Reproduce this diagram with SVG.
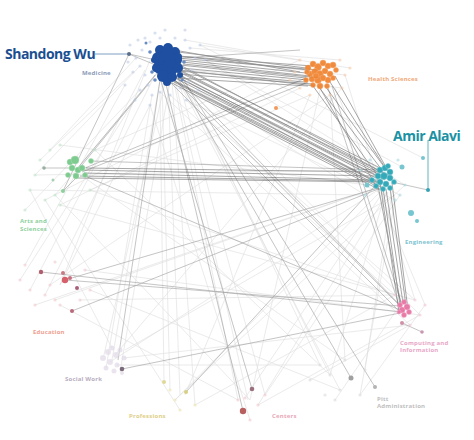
<svg xmlns="http://www.w3.org/2000/svg" width="474" height="440" viewBox="0 0 474 440">
<style>
.f{stroke:#c8c8c8;stroke-width:.6;opacity:.6}
.m{stroke:#8a8a8a;stroke-width:.7;opacity:.7}
.d{stroke:#3a3a3a;stroke-width:.8;opacity:.55}
.name{font-family:"Open Sans","Liberation Sans",sans-serif;font-weight:700;font-size:14px;letter-spacing:-.5px}
.lab{font-family:"Open Sans","Liberation Sans",sans-serif;font-weight:700;font-size:6px;letter-spacing:.2px}
.hb{fill:#b9c8e3;opacity:.55}
.ho{fill:#f8c9a4;opacity:.55}
.ht{fill:#a9dbe2;opacity:.6}
.hg{fill:#bfe6c8;opacity:.6}
.hr{fill:#f2c4c8;opacity:.55}
.hp{fill:#e2dae8;opacity:.7}
.hy{fill:#efe7b8;opacity:.7}
.hx{fill:#dcdcdc;opacity:.6}
.hk{fill:#f4c6da;opacity:.6}
</style>
<rect width="474" height="440" fill="#fff"/>
<g id="connectors" fill="none">
<g class="f">
<line x1="150" y1="60" x2="60" y2="285"/><line x1="155" y1="75" x2="45" y2="295"/><line x1="145" y1="70" x2="30" y2="290"/>
<line x1="160" y1="80" x2="112" y2="360"/><line x1="165" y1="82" x2="104" y2="355"/><line x1="170" y1="82" x2="120" y2="372"/>
<line x1="168" y1="82" x2="180" y2="395"/><line x1="172" y1="80" x2="195" y2="405"/><line x1="162" y1="80" x2="170" y2="390"/>
<line x1="175" y1="80" x2="248" y2="400"/><line x1="178" y1="78" x2="265" y2="395"/><line x1="174" y1="82" x2="238" y2="400"/>
<line x1="180" y1="76" x2="330" y2="375"/><line x1="182" y1="74" x2="320" y2="365"/><line x1="178" y1="80" x2="340" y2="390"/>
<line x1="140" y1="66" x2="35" y2="175"/><line x1="136" y1="58" x2="50" y2="150"/><line x1="148" y1="85" x2="55" y2="195"/>
<line x1="140" y1="90" x2="25" y2="210"/><line x1="133" y1="72" x2="40" y2="160"/>
<line x1="190" y1="48" x2="340" y2="60"/><line x1="200" y1="45" x2="350" y2="68"/><line x1="185" y1="40" x2="300" y2="60"/>
<line x1="195" y1="58" x2="345" y2="75"/><line x1="192" y1="70" x2="342" y2="88"/>
<line x1="188" y1="82" x2="360" y2="170"/><line x1="198" y1="90" x2="365" y2="195"/><line x1="186" y1="100" x2="395" y2="200"/>
<line x1="205" y1="60" x2="405" y2="185"/><line x1="180" y1="88" x2="400" y2="195"/>
<line x1="186" y1="100" x2="415" y2="300"/><line x1="198" y1="90" x2="420" y2="315"/><line x1="170" y1="95" x2="395" y2="295"/>
<line x1="160" y1="92" x2="410" y2="325"/>
<line x1="300" y1="88" x2="60" y2="205"/><line x1="295" y1="72" x2="45" y2="200"/><line x1="310" y1="95" x2="90" y2="190"/>
<line x1="330" y1="95" x2="50" y2="285"/><line x1="342" y1="88" x2="115" y2="355"/><line x1="310" y1="95" x2="185" y2="395"/>
<line x1="320" y1="90" x2="250" y2="400"/><line x1="330" y1="92" x2="345" y2="360"/><line x1="345" y1="75" x2="415" y2="300"/>
<line x1="335" y1="88" x2="425" y2="305"/><line x1="300" y1="60" x2="95" y2="150"/>
<line x1="360" y1="170" x2="35" y2="175"/><line x1="365" y1="195" x2="30" y2="190"/><line x1="367" y1="185" x2="60" y2="145"/>
<line x1="376" y1="188" x2="55" y2="300"/><line x1="370" y1="190" x2="35" y2="305"/><line x1="378" y1="190" x2="110" y2="362"/>
<line x1="380" y1="192" x2="175" y2="400"/><line x1="383" y1="192" x2="245" y2="398"/><line x1="388" y1="192" x2="258" y2="405"/>
<line x1="386" y1="192" x2="330" y2="375"/><line x1="392" y1="192" x2="365" y2="370"/><line x1="395" y1="200" x2="360" y2="395"/>
<line x1="90" y1="190" x2="395" y2="295"/><line x1="60" y1="205" x2="415" y2="300"/><line x1="55" y1="195" x2="250" y2="400"/>
<line x1="45" y1="200" x2="180" y2="410"/><line x1="95" y1="150" x2="330" y2="375"/><line x1="85" y1="178" x2="345" y2="360"/>
<line x1="30" y1="190" x2="112" y2="348"/><line x1="80" y1="300" x2="395" y2="295"/><line x1="85" y1="270" x2="420" y2="315"/>
<line x1="90" y1="290" x2="340" y2="390"/><line x1="60" y1="305" x2="238" y2="400"/><line x1="124" y1="358" x2="410" y2="325"/>
<line x1="117" y1="365" x2="320" y2="365"/><line x1="125" y1="350" x2="395" y2="195"/><line x1="195" y1="405" x2="395" y2="295"/>
<line x1="175" y1="400" x2="405" y2="185"/><line x1="258" y1="405" x2="420" y2="315"/><line x1="265" y1="395" x2="400" y2="195"/>
<line x1="335" y1="400" x2="400" y2="305"/><line x1="310" y1="380" x2="410" y2="325"/><line x1="360" y1="395" x2="425" y2="305"/>
<line x1="150" y1="105" x2="60" y2="285"/><line x1="135" y1="100" x2="20" y2="280"/><line x1="125" y1="85" x2="25" y2="265"/>
<line x1="152" y1="95" x2="106" y2="368"/><line x1="160" y1="92" x2="164" y2="382"/><line x1="150" y1="105" x2="250" y2="420"/>
<line x1="200" y1="45" x2="423" y2="158"/><line x1="205" y1="60" x2="402" y2="167"/>
</g>
<g class="m">
<line x1="41" y1="272" x2="402" y2="312"/><line x1="65" y1="280" x2="400" y2="306"/>
<line x1="122" y1="369" x2="400" y2="313"/><line x1="72" y1="311" x2="383" y2="187"/>
<line x1="252" y1="389" x2="160" y2="78"/><line x1="243" y1="411" x2="165" y2="80"/>
<line x1="351" y1="378" x2="178" y2="78"/><line x1="375" y1="387" x2="181" y2="76"/>
<line x1="178" y1="78" x2="400" y2="305"/><line x1="175" y1="80" x2="402" y2="308"/><line x1="170" y1="82" x2="398" y2="310"/>
<line x1="158" y1="72" x2="82" y2="165"/><line x1="155" y1="75" x2="76" y2="170"/>
<line x1="129" y1="54" x2="156" y2="60"/><line x1="129" y1="54" x2="158" y2="66"/><line x1="129" y1="54" x2="63" y2="191"/>
<line x1="306" y1="78" x2="85" y2="168"/><line x1="308" y1="82" x2="82" y2="172"/>
<line x1="332" y1="86" x2="402" y2="305"/><line x1="328" y1="88" x2="400" y2="308"/>
<line x1="85" y1="176" x2="400" y2="310"/><line x1="428" y1="190" x2="392" y2="182"/>
<line x1="160" y1="80" x2="118" y2="360"/><line x1="44" y1="168" x2="70" y2="168"/><line x1="63" y1="191" x2="78" y2="176"/>
<line x1="375" y1="186" x2="186" y2="392"/><line x1="378" y1="188" x2="65" y2="280"/><line x1="402" y1="323" x2="422" y2="332"/>
<line x1="91" y1="161" x2="380" y2="170"/><line x1="180" y1="58" x2="300" y2="50"/>
</g>
<g class="d">
<line x1="178" y1="52" x2="306" y2="68"/><line x1="180" y1="56" x2="308" y2="70"/><line x1="181" y1="60" x2="306" y2="73"/>
<line x1="182" y1="62" x2="310" y2="76"/><line x1="180" y1="65" x2="306" y2="78"/><line x1="181" y1="68" x2="308" y2="80"/>
<line x1="179" y1="71" x2="305" y2="82"/><line x1="178" y1="74" x2="312" y2="84"/><line x1="176" y1="56" x2="313" y2="66"/>
<line x1="177" y1="58" x2="318" y2="70"/><line x1="183" y1="64" x2="320" y2="78"/><line x1="176" y1="78" x2="308" y2="86"/>
<line x1="180" y1="70" x2="315" y2="86"/><line x1="174" y1="50" x2="300" y2="72"/>
<line x1="180" y1="70" x2="378" y2="172"/><line x1="182" y1="72" x2="380" y2="175"/><line x1="178" y1="74" x2="376" y2="178"/>
<line x1="180" y1="76" x2="382" y2="178"/><line x1="177" y1="79" x2="378" y2="182"/><line x1="175" y1="81" x2="380" y2="184"/>
<line x1="183" y1="68" x2="384" y2="170"/><line x1="182" y1="66" x2="386" y2="174"/><line x1="176" y1="76" x2="372" y2="180"/>
<line x1="179" y1="78" x2="385" y2="180"/><line x1="174" y1="82" x2="376" y2="186"/><line x1="172" y1="80" x2="383" y2="188"/>
<line x1="181" y1="73" x2="390" y2="176"/><line x1="170" y1="82" x2="380" y2="190"/>
<line x1="318" y1="86" x2="382" y2="170"/><line x1="325" y1="86" x2="385" y2="168"/><line x1="330" y1="82" x2="388" y2="172"/>
<line x1="313" y1="86" x2="378" y2="176"/><line x1="335" y1="76" x2="392" y2="178"/><line x1="320" y1="88" x2="376" y2="186"/>
<line x1="383" y1="188" x2="400" y2="305"/><line x1="386" y1="189" x2="403" y2="303"/><line x1="390" y1="188" x2="406" y2="306"/>
<line x1="378" y1="186" x2="402" y2="310"/><line x1="392" y1="183" x2="408" y2="310"/><line x1="380" y1="182" x2="399" y2="312"/>
<line x1="82" y1="170" x2="376" y2="176"/><line x1="84" y1="173" x2="378" y2="180"/><line x1="80" y1="176" x2="372" y2="181"/>
<line x1="86" y1="168" x2="380" y2="172"/><line x1="78" y1="178" x2="383" y2="182"/>
</g>
<line x1="95" y1="54" x2="129" y2="54" stroke="#5b88b4" stroke-width=".8"/>
<line x1="428" y1="140" x2="428" y2="190" stroke="#3aa3b3" stroke-width=".8"/>
</g>
<g id="medicine">
<g class="hb">
<circle cx="130" cy="45" r="1.6"/><circle cx="138" cy="40" r="1.6"/><circle cx="145" cy="38" r="1.6"/><circle cx="150" cy="42" r="1.6"/><circle cx="142" cy="50" r="1.6"/><circle cx="136" cy="58" r="1.6"/><circle cx="140" cy="66" r="1.6"/><circle cx="133" cy="72" r="1.6"/><circle cx="145" cy="75" r="1.6"/><circle cx="148" cy="85" r="1.6"/><circle cx="140" cy="90" r="1.6"/><circle cx="152" cy="95" r="1.6"/><circle cx="160" cy="92" r="1.6"/><circle cx="170" cy="95" r="1.6"/><circle cx="180" cy="88" r="1.6"/><circle cx="188" cy="82" r="1.6"/><circle cx="192" cy="70" r="1.6"/><circle cx="195" cy="58" r="1.6"/><circle cx="190" cy="48" r="1.6"/><circle cx="185" cy="40" r="1.6"/><circle cx="175" cy="38" r="1.6"/><circle cx="160" cy="38" r="1.6"/><circle cx="155" cy="33" r="1.6"/><circle cx="165" cy="30" r="1.6"/><circle cx="185" cy="30" r="1.6"/><circle cx="200" cy="45" r="1.6"/><circle cx="205" cy="60" r="1.6"/><circle cx="198" cy="90" r="1.6"/><circle cx="186" cy="100" r="1.6"/><circle cx="150" cy="105" r="1.6"/><circle cx="135" cy="100" r="1.6"/><circle cx="125" cy="85" r="1.6"/><circle cx="128" cy="62" r="1.6"/>
</g>
<g fill="#1f4fa0">
<circle cx="160" cy="50" r="5"/><circle cx="168" cy="48" r="5"/><circle cx="175" cy="52" r="5"/><circle cx="158" cy="58" r="6"/><circle cx="167" cy="58" r="8"/><circle cx="176" cy="60" r="6"/><circle cx="160" cy="67" r="7"/><circle cx="170" cy="68" r="8"/><circle cx="178" cy="68" r="5"/><circle cx="163" cy="76" r="6"/><circle cx="172" cy="77" r="5"/><circle cx="167" cy="82" r="4"/><circle cx="156" cy="68" r="4"/><circle cx="154" cy="60" r="3"/><circle cx="180" cy="75" r="3"/><circle cx="178" cy="57" r="4"/>
</g>
<g fill="#6a8cc4">
<circle cx="150" cy="52" r="1.8"/><circle cx="152" cy="72" r="1.8"/><circle cx="184" cy="62" r="1.8"/><circle cx="155" cy="80" r="1.8"/><circle cx="146" cy="43" r="1.5"/><circle cx="182" cy="80" r="1.6"/>
</g>
<circle cx="129" cy="54" r="2" fill="#5a6f8a"/>
</g>
<g id="health-sciences">
<g class="ho">
<circle cx="300" cy="60" r="1.6"/><circle cx="340" cy="60" r="1.6"/><circle cx="345" cy="75" r="1.6"/><circle cx="342" cy="88" r="1.6"/><circle cx="300" cy="88" r="1.6"/><circle cx="295" cy="72" r="1.6"/><circle cx="330" cy="95" r="1.6"/><circle cx="310" cy="95" r="1.6"/><circle cx="350" cy="68" r="1.6"/><circle cx="290" cy="80" r="1.6"/>
</g>
<g fill="#f07f2a" stroke="#f5a565" stroke-width=".5" opacity=".9">
<circle cx="308" cy="68" r="3"/><circle cx="313" cy="64" r="3"/><circle cx="318" cy="67" r="3.5"/><circle cx="323" cy="63" r="3"/><circle cx="328" cy="66" r="3"/><circle cx="333" cy="65" r="3"/><circle cx="336" cy="70" r="2.5"/><circle cx="310" cy="74" r="3"/><circle cx="315" cy="72" r="3.5"/><circle cx="320" cy="74" r="3.5"/><circle cx="325" cy="71" r="3"/><circle cx="330" cy="74" r="3"/><circle cx="306" cy="80" r="2.5"/><circle cx="312" cy="79" r="3"/><circle cx="318" cy="80" r="3.5"/><circle cx="323" cy="78" r="3"/><circle cx="328" cy="80" r="3"/><circle cx="313" cy="85" r="2.5"/><circle cx="320" cy="86" r="3"/><circle cx="327" cy="86" r="2.5"/><circle cx="316" cy="76" r="3"/><circle cx="333" cy="78" r="2.5"/><circle cx="307" cy="72" r="2.5"/>
</g>
<circle cx="276" cy="108" r="2" fill="#f09a5c"/>
</g>
<g id="engineering">
<g class="ht">
<circle cx="400" cy="195" r="1.6"/><circle cx="360" cy="170" r="1.6"/><circle cx="365" cy="195" r="1.6"/><circle cx="395" cy="200" r="1.6"/><circle cx="405" cy="185" r="1.6"/><circle cx="370" cy="160" r="1.6"/><circle cx="398" cy="160" r="1.6"/>
</g>
<g fill="#36a9b9" stroke="#7ccad4" stroke-width=".5">
<circle cx="380" cy="170" r="3"/><circle cx="385" cy="168" r="3"/><circle cx="390" cy="172" r="3"/><circle cx="378" cy="176" r="3"/><circle cx="384" cy="176" r="3.5"/><circle cx="390" cy="178" r="3"/><circle cx="394" cy="182" r="2.5"/><circle cx="380" cy="182" r="3"/><circle cx="386" cy="184" r="3"/><circle cx="376" cy="186" r="2.5"/><circle cx="383" cy="189" r="2.5"/><circle cx="390" cy="188" r="2.5"/><circle cx="372" cy="180" r="2.5"/><circle cx="388" cy="166" r="2.5"/>
</g>
<g fill="#78c6d0">
<circle cx="367" cy="185" r="2.5"/><circle cx="402" cy="167" r="2.5"/><circle cx="411" cy="213" r="3"/><circle cx="417" cy="221" r="2"/><circle cx="423" cy="158" r="2"/>
</g>
<circle cx="428" cy="190" r="2" fill="#3aa3b3"/>
</g>
<g id="arts-and-sciences">
<g class="hg">
<circle cx="50" cy="150" r="1.6"/><circle cx="40" cy="160" r="1.6"/><circle cx="35" cy="175" r="1.6"/><circle cx="55" cy="195" r="1.6"/><circle cx="45" cy="200" r="1.6"/><circle cx="30" cy="190" r="1.6"/><circle cx="60" cy="205" r="1.6"/><circle cx="25" cy="210" r="1.6"/><circle cx="90" cy="190" r="1.6"/><circle cx="95" cy="150" r="1.6"/><circle cx="60" cy="145" r="1.6"/>
</g>
<g fill="#7ecb8f" stroke="#a8dcb4" stroke-width=".5">
<circle cx="70" cy="162" r="3"/><circle cx="75" cy="160" r="4"/><circle cx="72" cy="168" r="3"/><circle cx="78" cy="170" r="3"/><circle cx="82" cy="168" r="3"/><circle cx="68" cy="175" r="2.5"/><circle cx="76" cy="176" r="3"/><circle cx="85" cy="175" r="2.5"/><circle cx="91" cy="161" r="2.5"/>
</g>
<circle cx="44" cy="168" r="1.8" fill="#9aaea0"/><circle cx="63" cy="191" r="2" fill="#8fcf9c"/><circle cx="53" cy="180" r="1.5" fill="#a8cfb2"/>
</g>
<g id="education">
<g class="hr">
<circle cx="50" cy="285" r="1.6"/><circle cx="45" cy="295" r="1.6"/><circle cx="55" cy="300" r="1.6"/><circle cx="30" cy="290" r="1.6"/><circle cx="35" cy="305" r="1.6"/><circle cx="60" cy="305" r="1.6"/><circle cx="20" cy="280" r="1.6"/><circle cx="25" cy="265" r="1.6"/><circle cx="55" cy="262" r="1.6"/><circle cx="80" cy="300" r="1.6"/><circle cx="85" cy="270" r="1.6"/><circle cx="90" cy="290" r="1.6"/>
</g>
<circle cx="41" cy="272" r="2.2" fill="#b35e6e"/><circle cx="63" cy="273" r="2" fill="#c97a85"/><circle cx="65" cy="280" r="3.2" fill="#d5606a"/><circle cx="70" cy="278" r="2" fill="#c87080"/><circle cx="77" cy="288" r="2" fill="#a8607a"/><circle cx="72" cy="311" r="2" fill="#b86a7a"/>
</g>
<g id="social-work">
<g class="hp">
<circle cx="103" cy="358" r="3"/><circle cx="108" cy="352" r="3"/><circle cx="112" cy="348" r="2.5"/><circle cx="116" cy="355" r="3"/><circle cx="120" cy="350" r="2.5"/><circle cx="110" cy="362" r="3"/><circle cx="117" cy="365" r="2.5"/><circle cx="124" cy="358" r="2.5"/><circle cx="106" cy="368" r="2.5"/><circle cx="114" cy="371" r="2.5"/><circle cx="122" cy="373" r="2"/>
</g>
<circle cx="122" cy="369" r="2.3" fill="#7a6a7a"/>
</g>
<g id="professions">
<g class="hy"><circle cx="175" cy="400" r="1.6"/><circle cx="195" cy="405" r="1.6"/><circle cx="180" cy="410" r="1.6"/><circle cx="170" cy="390" r="1.6"/></g>
<circle cx="164" cy="382" r="2" fill="#e0d89a"/><circle cx="186" cy="392" r="2" fill="#d8cf80"/>
</g>
<g id="centers">
<g class="hr"><circle cx="245" cy="398" r="1.6"/><circle cx="258" cy="405" r="1.6"/><circle cx="265" cy="395" r="1.6"/><circle cx="238" cy="400" r="1.6"/><circle cx="250" cy="420" r="1.6"/></g>
<circle cx="252" cy="389" r="2.3" fill="#9a7080"/><circle cx="243" cy="411" r="3.2" fill="#b86060"/>
</g>
<g id="pitt-administration">
<g class="hx"><circle cx="320" cy="365" r="1.6"/><circle cx="330" cy="375" r="1.6"/><circle cx="340" cy="390" r="1.6"/><circle cx="360" cy="395" r="1.6"/><circle cx="345" cy="360" r="1.6"/><circle cx="365" cy="370" r="1.6"/><circle cx="325" cy="395" r="1.6"/><circle cx="310" cy="380" r="1.6"/><circle cx="335" cy="400" r="1.6"/></g>
<circle cx="351" cy="378" r="2.5" fill="#a0a0a0"/><circle cx="375" cy="387" r="2" fill="#b4b4b4"/>
</g>
<g id="computing-and-information">
<g class="hk"><circle cx="415" cy="300" r="1.6"/><circle cx="420" cy="315" r="1.6"/><circle cx="395" cy="295" r="1.6"/><circle cx="410" cy="325" r="1.6"/><circle cx="425" cy="305" r="1.6"/></g>
<g fill="#e87aa8" stroke="#f3a6c6" stroke-width=".5">
<circle cx="400" cy="305" r="2.5"/><circle cx="404" cy="302" r="2.5"/><circle cx="407" cy="307" r="3"/><circle cx="402" cy="310" r="3"/><circle cx="409" cy="312" r="2.5"/><circle cx="404" cy="315" r="2.5"/><circle cx="399" cy="312" r="2"/>
</g>
<circle cx="402" cy="323" r="2" fill="#d090a8"/><circle cx="422" cy="332" r="1.8" fill="#c898b0"/>
</g>
<g id="labels">
<text class="name" x="5" y="59" fill="#1b4f91">Shandong Wu</text>
<text class="name" x="393" y="141" fill="#1a92a4">Amir Alavi</text>
<text class="lab" x="82" y="75" fill="#8a9bb8">Medicine</text>
<text class="lab" x="368" y="81" fill="#f0a878">Health Sciences</text>
<text class="lab" x="405" y="244" fill="#7ec3cf">Engineering</text>
<text class="lab" x="20" y="223" fill="#8fd0a0">Arts and</text>
<text class="lab" x="20" y="231" fill="#8fd0a0">Sciences</text>
<text class="lab" x="33" y="334" fill="#f0a090">Education</text>
<text class="lab" x="65" y="381" fill="#b8aec0">Social Work</text>
<text class="lab" x="129" y="418" fill="#e0cf88">Professions</text>
<text class="lab" x="272" y="418" fill="#e8a8b8">Centers</text>
<text class="lab" x="377" y="401" fill="#c0c0c0">Pitt</text>
<text class="lab" x="377" y="408" fill="#c0c0c0">Administration</text>
<text class="lab" x="400" y="345" fill="#e8a8c8">Computing and</text>
<text class="lab" x="400" y="352" fill="#e8a8c8">Information</text>
</g>
</svg>
